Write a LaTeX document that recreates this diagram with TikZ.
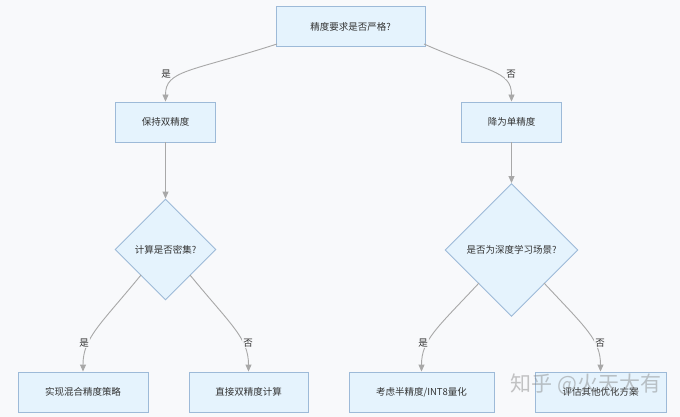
\documentclass[tikz,border=0pt]{standalone}
\usepackage{fontspec}
\setmainfont{Noto Sans CJK SC}
\usetikzlibrary{shapes.geometric,arrows.meta}
\definecolor{bgc}{HTML}{F8F9FB}
\definecolor{boxfill}{HTML}{E5F3FD}
\definecolor{boxdraw}{HTML}{9DBAD8}
\definecolor{edgec}{HTML}{A8A8A8}
\definecolor{txt}{HTML}{333333}
\tikzset{
  box/.style={draw=boxdraw, fill=boxfill, line width=0.9pt, minimum height=40pt, inner sep=0pt, font=\fontsize{9.5}{11}\selectfont, text=txt},
  dia/.style={diamond, aspect=1, draw=boxdraw, fill=boxfill, line width=0.9pt, inner sep=0pt, font=\fontsize{9.5}{11}\selectfont, text=txt},
  edge/.style={draw=edgec, line width=0.9pt, -{Triangle[length=7pt,width=6pt]}},
  lbl/.style={fill=bgc, fill opacity=0.9, text opacity=1, inner sep=1pt, font=\fontsize{9.5}{11}\selectfont, text=txt}
}
\begin{document}
\begin{tikzpicture}[x=1pt,y=-1pt]
\fill[bgc] (0,0) rectangle (680,417);
\useasboundingbox (0,0) rectangle (680,417);
\node[box, minimum width=149pt] (top) at (350.5,26.5) {精度要求是否严格?};
\node[box, minimum width=100pt] (L1) at (165.5,122) {保持双精度};
\node[box, minimum width=100pt] (R1) at (511.5,122) {降为单精度};
\node[dia, minimum width=101pt, minimum height=101pt] (D1) at (165.5,249.5) {计算是否密集?};
\node[dia, minimum width=133pt, minimum height=133pt] (D2) at (511.5,250) {是否为深度学习场景?};
\node[box, minimum width=130pt] (B1) at (83,392) {实现混合精度策略};
\node[box, minimum width=119pt] (B2) at (248.5,392) {直接双精度计算};
\node[box, minimum width=145pt] (B3) at (421.5,392) {考虑半精度/INT8量化};
\node[box, minimum width=131pt] (B4) at (600.5,392) {评估其他优化方案};
\coordinate (t1) at (277,44);
\coordinate (t2) at (424,44);
\coordinate (d1a) at (141,275);
\coordinate (d1b) at (190,275);
\coordinate (d2a) at (479,283);
\coordinate (d2b) at (544,283);
\draw[edge] (t1) .. controls (190,72) and (165.5,70) .. (L1.north);
\draw[edge] (t2) .. controls (487,72) and (511.5,70) .. (R1.north);
\draw[edge] (L1.south) -- (D1.north);
\draw[edge] (R1.south) -- (D2.north);
\draw[edge] (d1a) .. controls (100,325) and (83,338) .. (B1.north);
\draw[edge] (d1b) .. controls (231,325) and (248.5,338) .. (B2.north);
\draw[edge] (d2a) .. controls (437,328) and (421.5,340) .. (B3.north);
\draw[edge] (d2b) .. controls (586,328) and (600.5,340) .. (B4.north);
\node[lbl] (l1) at (166,74) {是};
\node[lbl] (l2) at (511,74) {否};
\node[lbl] (l3) at (84,343) {是};
\node[lbl] (l4) at (248,343) {否};
\node[lbl] (l5) at (423,343) {是};
\node[lbl] (l6) at (600,343) {否};
\node[text=gray, opacity=0.45, font=\fontsize{21}{24}\selectfont] (wm) at (586,384) {知乎 @火天大有};
\end{tikzpicture}
\end{document}
